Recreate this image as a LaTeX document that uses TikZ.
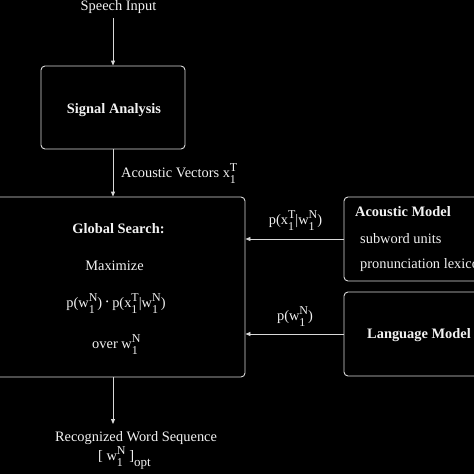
\documentclass[tikz,border=0pt]{standalone}
\usepackage{fontspec}
\setmainfont{Liberation Serif}
\usetikzlibrary{arrows.meta}
\newlength\sslen
\newcommand\supsub[2]{\leavevmode\setbox0\hbox{\fontsize{12}{12}\selectfont#1}\setbox2\hbox{\fontsize{12}{12}\selectfont#2}\ifdim\wd0>\wd2 \sslen=\wd0 \else \sslen=\wd2 \fi\rlap{\raise0.40em\box0}\rlap{\lower0.42em\box2}\hspace{\sslen}}
\newcommand\pdot{\ \raisebox{0.15em}{\fontsize{8}{8}\selectfont\textbullet}\ }
\definecolor{linec}{gray}{0.85}
\definecolor{textc}{gray}{0.95}
\tikzset{
  box/.style={draw=linec, line width=0.9pt, rounded corners=4pt, inner sep=0pt},
  txt/.style={text=textc, inner sep=0pt, font=\fontsize{14.4}{17}\selectfont},
  btxt/.style={txt, font=\fontsize{14.4}{17}\selectfont\bfseries},
  arr/.style={draw=linec, line width=0.9pt, -{Triangle[length=5pt,width=4pt]}}
}
\begin{document}
\begin{tikzpicture}[x=1pt,y=1pt]
\fill[black] (0,0) rectangle (474,-474);
\useasboundingbox (0,0) rectangle (474,-474);
\clip (0,0) rectangle (474,-474);
% boxes
\node[box, minimum width=144pt, minimum height=83pt] (sig) at (113,-107.5) {};
\node[box, minimum width=264pt, minimum height=180pt] (glob) at (113,-287) {};
\node[box, minimum width=150pt, minimum height=84pt] (acm) at (419,-239) {};
\node[box, minimum width=150pt, minimum height=84pt] (lm) at (419,-334) {};
% texts
\node[txt, anchor=base] (speech) at (118.5,-10) {Speech Input};
\node[btxt, anchor=base] (sigt) at (114,-113) {Signal Analysis};
\node[txt, anchor=base west] (av) at (121,-177) {Acoustic Vectors x\supsub{T}{1}};
\node[btxt, anchor=base] (gs) at (118.5,-233) {Global Search:};
\node[txt, anchor=base] (max) at (114.5,-270) {Maximize};
\node[txt, anchor=base] (form) at (116,-307) {p(w\supsub{N}{1})\pdot p(x\supsub{T}{1}|w\supsub{N}{1})};
\node[txt, anchor=base] (over) at (112,-348) {over w\supsub{N}{1}};
\node[txt, anchor=base] (pxw) at (295.5,-224) {p(x\supsub{T}{1}|w\supsub{N}{1})};
\node[txt, anchor=base] (pw) at (295,-320) {p(w\supsub{N}{1})};
\node[btxt, anchor=base west] (amt) at (355,-216) {Acoustic Model};
\node[txt, anchor=base west] (sw) at (360,-243) {subword units};
\node[txt, anchor=base west] (pl) at (360,-268) {pronunciation lexicon};
\node[btxt, anchor=base west] (lmt) at (367,-338) {Language Model};
\node[txt, anchor=base] (rws) at (136,-441) {Recognized Word Sequence};
\node[txt, anchor=base west] (opt) at (98,-460) {[ w\supsub{N}{1} ]\raisebox{-0.45em}{\fontsize{13}{13}\selectfont opt}};
\coordinate (top) at (113,-18);
\coordinate (outp) at (113,-424);
% connectors
\draw[arr] (top) -- (sig.north);
\draw[arr] (sig.south) -- (glob.north);
\draw[arr] (acm.west) -- (acm.west -| glob.east);
\draw[arr] (lm.west) -- (lm.west -| glob.east);
\draw[arr] (glob.south) -- (outp);
\end{tikzpicture}
\end{document}
